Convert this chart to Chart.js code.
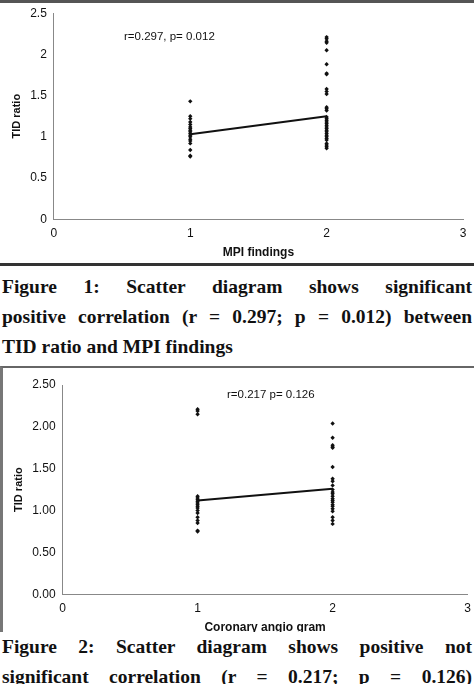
<!DOCTYPE html>
<html><head><meta charset="utf-8">
<script src="https://cdn.jsdelivr.net/npm/chart.js@4"></script>
<style>
body{margin:0;width:474px;height:684px;background:#fff;overflow:hidden;position:relative;font-family:"Liberation Sans",Arial,sans-serif}
.box{position:absolute;left:0;width:474px;background:#fff;overflow:hidden}
#b1{top:0;height:260px;border-top:3px solid #555;border-bottom:3px solid #333}
#b2{top:366px;height:264px;border-top:2px solid #666;border-left:3px solid #777;width:471px}
#c2{position:relative;top:5px}
.cap{position:absolute;left:2px;width:470px;font-family:"Liberation Serif","Times New Roman",serif;font-weight:bold;font-size:19.5px;line-height:30px;text-align:justify;text-align-last:justify;color:#111}
.cap span{display:block}
.cap span.last{text-align-last:left}
.note{position:absolute;font-size:11.5px;color:#111}
</style></head><body>
<div class="box" id="b1"><canvas id="c1" width="474" height="260"></canvas></div>
<div class="note" style="left:124px;top:30px">r=0.297, p= 0.012</div>
<div class="cap" style="top:272px"><span>Figure 1: Scatter diagram shows significant</span><span>positive correlation (r = 0.297; p = 0.012) between</span><span class="last">TID ratio and MPI findings</span></div>
<div class="box" id="b2"><canvas id="c2" width="471" height="262"></canvas></div>
<div class="note" style="left:227px;top:388px">r=0.217 p= 0.126</div>
<div class="cap" style="top:632px"><span>Figure 2: Scatter diagram shows positive not</span><span>significant correlation (r = 0.217; p = 0.126)</span></div>
<script>
const mpiOne = [1.43,1.25,1.22,1.18,1.15,1.12,1.10,1.08,1.06,1.04,1.02,1.00,0.97,0.95,0.92,0.84,0.77,0.76];
const mpiTwo = [2.21,2.19,2.16,2.14,2.05,1.88,1.77,1.76,1.58,1.55,1.52,1.36,1.34,1.32,1.24,1.22,1.20,1.18,1.16,1.14,1.12,1.10,1.08,1.06,1.04,1.02,1.00,0.98,0.96,0.92,0.90,0.88,0.86];
const mpiTrend = [1.03,1.25];
const angOne = [2.21,2.19,2.15,1.17,1.15,1.13,1.11,1.09,1.07,1.05,1.03,1.00,0.97,0.92,0.88,0.85,0.76,0.75];
const angTwo = [2.04,1.87,1.78,1.76,1.75,1.52,1.38,1.35,1.30,1.25,1.22,1.20,1.17,1.14,1.12,1.10,1.07,1.05,1.02,0.99,0.92,0.88,0.84];
const angTrend = [1.12,1.26];

function pts(x, arr){ return arr.map(v => ({x:x, y:v})); }

function makeChart(id, one, two, trend, xTitle, decimals, pad){
  new Chart(document.getElementById(id), {
    type: "scatter",
    data: { datasets: [
      { data: pts(1, one).concat(pts(2, two)), pointRadius: 2.2, pointStyle: "rectRot", backgroundColor: "#111", borderColor: "#111", borderWidth: 0 },
      { type: "line", data: [{x:1,y:trend[0]},{x:2,y:trend[1]}], borderColor: "#111", borderWidth: 2, pointRadius: 0 }
    ]},
    options: {
      responsive: false, animation: false,
      layout: { padding: pad },
      plugins: { legend: {display:false}, tooltip: {enabled:false} },
      scales: {
        x: { type: "linear", min: 0, max: 3, grid: {display:false, tickLength:4, color:"#888"}, border:{color:"#888"},
             ticks: { stepSize: 1, color: "#111", font: {size: 12} },
             title: { display: true, text: xTitle, color: "#111", font: {size: 12, weight: "bold"}, padding: {top:2, bottom:0} } },
        y: { min: 0, max: 2.5, grid: {display:false, tickLength:4, color:"#888"}, border:{color:"#888"},
             ticks: { stepSize: 0.5, color: "#111", font: {size: 12}, callback: v => decimals ? v.toFixed(decimals) : String(+v.toFixed(1)) },
             title: { display: true, text: "TID ratio", color: "#111", font: {size: 11, weight: "bold"} } }
      }
    }
  });
}
makeChart("c1", mpiOne, mpiTwo, mpiTrend, "MPI findings", 0, {top:10, right:11, left:6, bottom:3});
makeChart("c2", angOne, angTwo, angTrend, "Coronary angio gram", 2, {top:12, right:2, left:5, bottom:0});
</script>
</body></html>
